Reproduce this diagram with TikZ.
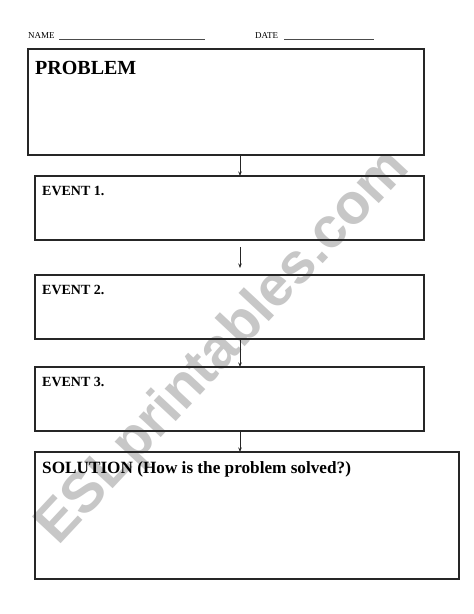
\documentclass[tikz,border=0pt]{standalone}
\usepackage{fontspec}
\setmainfont{Liberation Serif}
\newfontfamily\wmfont{Liberation Sans}
\usetikzlibrary{arrows.meta,calc}
\begin{document}
\begin{tikzpicture}[x=1pt,y=-1pt,
  box/.style={draw=black!85,line width=1.1pt,anchor=north west,inner sep=0pt,outer sep=0pt},
  lbl/.style={anchor=base west,inner sep=0pt,font=\bfseries},
  hdr/.style={anchor=base west,inner sep=0pt,font=\fontsize{9}{10}\selectfont},
  conn/.style={draw=black!85,line width=0.7pt,-{Stealth[length=4.5pt,width=3.5pt]}},
  uline/.style={draw=black!70,line width=0.6pt}]
\useasboundingbox (0,0) rectangle (474,614);
\fill[white] (0,0) rectangle (474,614);
% watermark
\node[text=black!22,rotate=47,font=\wmfont\bfseries\fontsize{57}{60}\selectfont,inner sep=0pt] (wm) at (224,348) {ESLprintables.com};
% header
\node[hdr] (name) at (28,38) {NAME};
\coordinate (n1) at (59,39);
\coordinate (n2) at (205,39);
\draw[uline] (n1) -- (n2);
\node[hdr] (date) at (255,38) {DATE};
\coordinate (d1) at (284,39);
\coordinate (d2) at (374,39);
\draw[uline] (d1) -- (d2);
% boxes
\node[box,minimum width=396pt,minimum height=106pt] (prob) at (28,49) {};
\node[box,minimum width=389pt,minimum height=64pt] (e1) at (35,176) {};
\node[box,minimum width=389pt,minimum height=64pt] (e2) at (35,275) {};
\node[box,minimum width=389pt,minimum height=64pt] (e3) at (35,367) {};
\node[box,minimum width=424pt,minimum height=127pt] (sol) at (35,452) {};
% labels
\node[lbl,font=\bfseries\fontsize{20}{22}\selectfont] (tprob) at (35,74) {PROBLEM};
\node[lbl,font=\bfseries\fontsize{14}{16}\selectfont] (t1) at (42,195) {EVENT 1.};
\node[lbl,font=\bfseries\fontsize{14}{16}\selectfont] (t2) at (42,294) {EVENT 2.};
\node[lbl,font=\bfseries\fontsize{14}{16}\selectfont] (t3) at (42,386) {EVENT 3.};
\node[lbl,font=\bfseries\fontsize{17.2}{19}\selectfont] (tsol) at (42,473) {SOLUTION (How is the problem solved?)};
% connectors
\coordinate (ax) at (240,0);
\draw[conn] (ax |- prob.south) -- (ax |- e1.north);
\draw[conn,shorten <=7pt,shorten >=7pt] (ax |- e1.south) -- (ax |- e2.north);
\draw[conn] (ax |- e2.south) -- (ax |- e3.north);
\draw[conn] (ax |- e3.south) -- (ax |- sol.north);
\end{tikzpicture}
\end{document}
